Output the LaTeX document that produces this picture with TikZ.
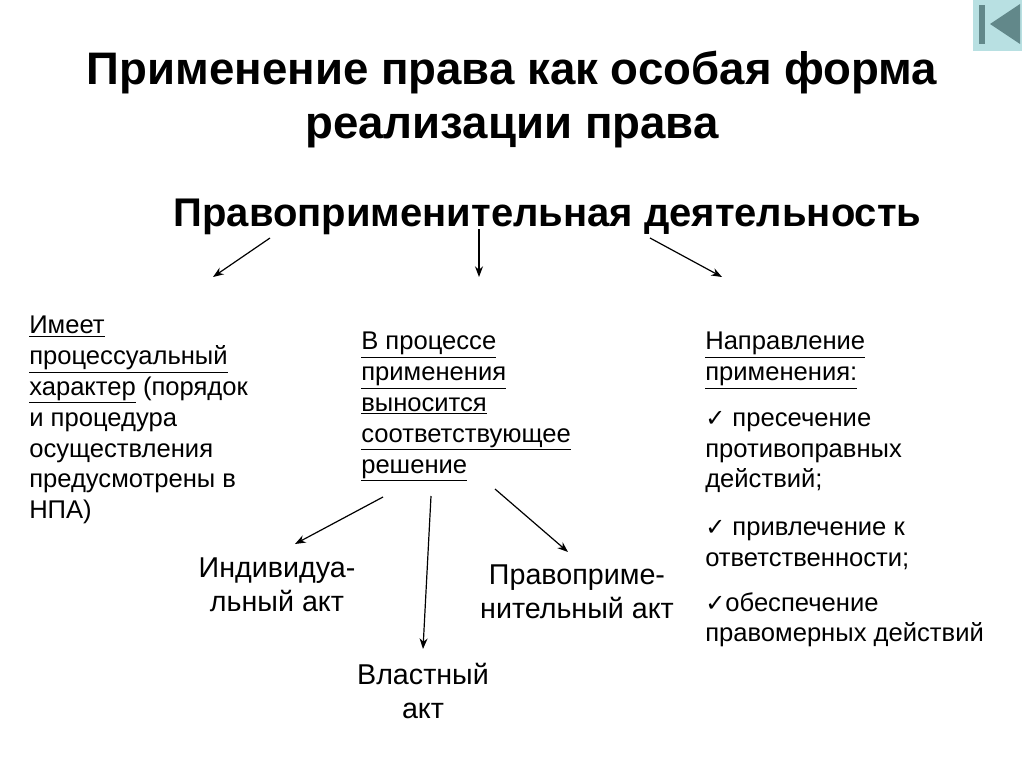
\documentclass[tikz,border=0pt]{standalone}
\usepackage{fontspec}
\setmainfont{Liberation Sans}
\newfontfamily\checkfont{DejaVu Sans}
\usetikzlibrary{arrows.meta}
\definecolor{btnfill}{RGB}{184,224,226}
\definecolor{btnmark}{RGB}{98,136,138}
\newcommand{\chk}{{\checkfont\fontsize{18}{18}\selectfont ✓}}
\begin{document}
\begin{tikzpicture}[
x=0.75pt,y=-0.75pt,
font=\fontsize{19.2}{23.1}\selectfont,
titletext/.style={font=\fontsize{34.2}{40.5}\selectfont\bfseries,align=center,inner sep=0pt},
bodytext/.style={anchor=north west,align=left,inner sep=0pt},
acttext/.style={font=\fontsize{21.5}{25.5}\selectfont,align=center,inner sep=0pt},
link/.style={-{Stealth[length=8pt,width=6pt]},line width=0.9pt,black}
]
    \useasboundingbox (0,0) rectangle (1024,767);

    % Return button
    \fill [btnfill] (973,0) rectangle (1022,51);
    \fill [btnmark] (979,5) rectangle (985,44);
    \fill [btnmark] (990,24) -- (1020,4) -- (1020,44) -- cycle;

    % Headings
    \node [titletext] (title) at (512,100) {Применение права как особая форма\\реализации права};
    \node [titletext,font=\fontsize{30}{36}\selectfont\bfseries] (activity) at (547.5,217) {Правоприменительная деятельность};

    % Three columns
    \node [bodytext] (character) at (29,316) {\underline{Имеет}\\\underline{процессуальный}\\\underline{характер} (порядок\\и процедура\\осуществления\\предусмотрены в\\НПА)};
    \node [bodytext] (decision) at (361,332) {\underline{В процессе}\\\underline{применения}\\\underline{выносится}\\\underline{соответствующее}\\\underline{решение}};
    \node [bodytext] (direction) at (705,332) {\underline{Направление}\\\underline{применения:}};
    \node [bodytext] (stop) at (705,411) {\chk\ пресечение\\противоправных\\действий;};
    \node [bodytext] (duty) at (705,520) {\chk\ привлечение к\\ответственности;};
    \node [bodytext] (lawful) at (705,592) {\chk обеспечение\\правомерных действий};

    % Kinds of act
    \node [acttext] (individual) at (277,585) {Индивидуа-\\льный акт};
    \node [acttext] (applied) at (577,592) {Правоприме-\\нительный акт};
    \node [acttext] (power) at (423,691) {Властный\\акт};

    \coordinate (a1) at (270,238);
    \coordinate (a2) at (213,277);
    \coordinate (b1) at (479,229);
    \coordinate (b2) at (479,277);
    \coordinate (c1) at (650,238);
    \coordinate (c2) at (722,277);
    \coordinate (d1) at (383,497);
    \coordinate (d2) at (295,544);
    \coordinate (e1) at (431,496);
    \coordinate (e2) at (423,649);
    \coordinate (f1) at (495,489);
    \coordinate (f2) at (568,552);

    \draw [link] (a1) -- (a2);
    \draw [link] (b1) -- (b2);
    \draw [link] (c1) -- (c2);
    \draw [link] (d1) -- (d2);
    \draw [link] (e1) -- (e2);
    \draw [link] (f1) -- (f2);
\end{tikzpicture}
\end{document}
